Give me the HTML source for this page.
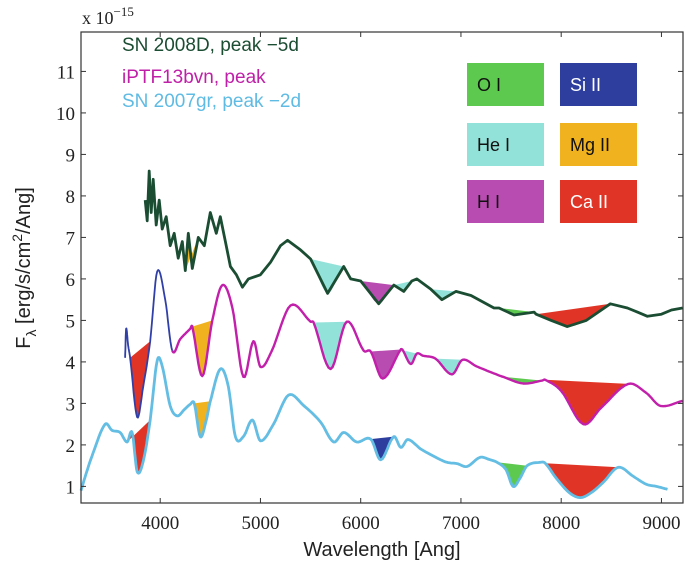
<!DOCTYPE html>
<html><head><meta charset="utf-8"><style>
body{margin:0;background:#fff;}
svg{display:block;}
</style></head><body>
<svg id="chart" width="685" height="566" xmlns="http://www.w3.org/2000/svg">
<g id="fills"></g>
<g id="lines"></g>
<g id="axes"></g>
<g font-family="Liberation Sans, sans-serif" font-size="19">
<text x="122" y="51" fill="#1b4d33">SN 2008D, peak −5d</text>
<text x="122" y="83" fill="#c020a8">iPTF13bvn, peak</text>
<text x="122" y="107" fill="#5fbbe3">SN 2007gr, peak −2d</text>
</g>
<g id="ionlegend" font-family="Liberation Sans, sans-serif" font-size="18"></g>
</svg>
<script>
const NS='http://www.w3.org/2000/svg';
// axis ranges
const xMin=3210, xMax=9215, yMin=0.6, yMax=11.95;
const xTicks=[4000,5000,6000,7000,8000,9000];
const yTicks=[1,2,3,4,5,6,7,8,9,10,11];
// SN 2007gr
const lam07=[3210,3260,3330,3450,3520,3600,3670,3720,3770,3830,3900,3970,4020,4100,4170,4240,4300,4340,4400,4460,4500,4600,4680,4750,4830,4920,5000,5130,5280,5430,5600,5730,5830,5960,6100,6200,6330,6400,6470,6600,6750,6860,6960,7060,7190,7280,7360,7450,7520,7590,7660,7790,7840,7950,8080,8190,8300,8420,8570,8720,8850,8950,9060];
const flux07=[0.9,1.3,1.8,2.5,2.35,2.3,2.07,2.3,1.36,1.6,2.6,4.03,3.9,2.94,2.7,2.85,2.98,3.0,2.2,2.6,3.05,3.83,3.4,2.2,2.2,2.6,2.1,2.5,3.2,2.95,2.55,2.07,2.3,2.07,2.14,1.64,2.2,1.94,2.13,1.9,1.7,1.58,1.55,1.48,1.7,1.65,1.58,1.4,1.0,1.2,1.5,1.58,1.56,1.2,0.85,0.73,0.85,1.1,1.46,1.24,1.05,1.0,0.93];
// iPTF13bvn
const lam13=[3650,3660,3680,3700,3770,3830,3900,3970,4050,4120,4200,4300,4320,4420,4520,4620,4720,4830,4930,5000,5110,5300,5500,5530,5700,5860,6030,6100,6220,6400,6420,6500,6560,6620,6745,6910,7015,7150,7290,7420,7620,7810,7840,8000,8220,8400,8670,8850,8990,9210];
const flux13=[4.1,4.8,4.4,4.1,2.67,3.4,4.5,6.18,5.5,4.27,4.55,4.8,4.85,3.66,5.0,5.85,5.3,3.64,4.5,3.88,4.25,5.36,4.97,4.95,3.83,4.97,4.27,4.25,3.6,4.3,4.28,3.95,4.2,4.15,4.08,3.7,4.05,3.9,3.76,3.64,3.48,3.55,3.57,3.3,2.5,2.9,3.47,3.25,2.94,3.06];
// SN 2008D
const lam08=[3850,3870,3890,3910,3930,3960,3990,4020,4060,4100,4140,4180,4220,4250,4280,4320,4380,4440,4500,4560,4600,4650,4700,4760,4820,4880,5000,5100,5200,5270,5400,5500,5670,5830,5900,6000,6180,6330,6430,6510,6560,6700,6810,6950,7100,7330,7380,7530,7730,7750,7900,8060,8250,8490,8660,8760,8860,9000,9100,9210];
const flux08=[7.9,7.4,8.6,7.6,8.4,7.3,7.9,7.2,7.5,6.8,7.1,6.5,6.9,6.2,7.1,6.25,7.0,6.8,7.6,7.1,7.5,6.9,6.3,6.1,5.8,6.0,6.1,6.4,6.8,6.93,6.7,6.48,5.65,6.3,6.0,5.95,5.4,5.85,5.7,5.95,6.0,5.75,5.5,5.7,5.6,5.3,5.3,5.13,5.2,5.15,5.0,4.85,5.0,5.4,5.3,5.2,5.1,5.15,5.25,5.3];
// absorption features: [ion, start, end]
const fills07=[["Ca",3670,3900],["Mg",4340,4500],["Si",6100,6330],["O",7360,7660],["Ca",7840,8570]];
const fills13=[["Ca",3700,3900],["Mg",4320,4520],["He",5530,5860],["H",6100,6400],["He",6420,6560],["He",6745,7015],["O",7420,7810],["Ca",7840,8670]];
const fills08=[["Mg",4250,4380],["He",5500,5830],["H",6000,6330],["He",6330,6510],["He",6700,6950],["O",7380,7730],["Ca",7750,8490]];
const ionColors={O:"#5ec94f",Si:"#2d3e9e",He:"#93e2da",Mg:"#f0b21e",H:"#b84cb0",Ca:"#e03526"};
const ionLabels=[["O","O I",467,63,"#111"],["Si","Si II",560,63,"#fff"],["He","He I",467,123,"#111"],["Mg","Mg II",560,123,"#111"],["H","H I",467,180,"#111"],["Ca","Ca II",560,180,"#fff"]];

const L=81,R=683,T=32,B=503;
const X=v=>L+(v-xMin)/(xMax-xMin)*(R-L);
const Y=v=>B-(v-yMin)/(yMax-yMin)*(B-T);
// smooth (cubic Hermite) densification for drawing
function densify(la,fl){
  const n=la.length, m=[];
  for(let i=0;i<n;i++){
    if(i===0) m.push((fl[1]-fl[0])/(la[1]-la[0]));
    else if(i===n-1) m.push((fl[n-1]-fl[n-2])/(la[n-1]-la[n-2]));
    else m.push((fl[i+1]-fl[i-1])/(la[i+1]-la[i-1]));
  }
  const ol=[],of=[];
  for(let i=0;i<n-1;i++){
    const h=la[i+1]-la[i], S=8;
    for(let s=0;s<S;s++){
      const t=s/S,t2=t*t,t3=t2*t;
      ol.push(la[i]+t*h);
      of.push((2*t3-3*t2+1)*fl[i]+(t3-2*t2+t)*h*m[i]+(-2*t3+3*t2)*fl[i+1]+(t3-t2)*h*m[i+1]);
    }
  }
  ol.push(la[n-1]);of.push(fl[n-1]);
  return [ol,of];
}
function interp(la,fl,x){for(let i=0;i<la.length-1;i++){if(x>=la[i]&&x<=la[i+1]){const t=(x-la[i])/(la[i+1]-la[i]);return fl[i]+t*(fl[i+1]-fl[i]);}}return fl[fl.length-1];}
const fg=document.getElementById('fills'), lg=document.getElementById('lines'), ag=document.getElementById('axes');
function mk(tag,attrs,parent){const e=document.createElementNS(NS,tag);for(const k in attrs)e.setAttribute(k,attrs[k]);parent.appendChild(e);return e;}
function drawFills(la,fl,fills,name){
  fills.forEach(f=>{
    const a=f[1],b=f[2];const pts=[[a,interp(la,fl,a)]];
    la.forEach((l,i)=>{if(l>a&&l<b)pts.push([l,fl[i]]);});
    pts.push([b,interp(la,fl,b)]);
    const p=mk('polygon',{points:pts.map(q=>X(q[0]).toFixed(1)+','+Y(q[1]).toFixed(1)).join(' '),fill:ionColors[f[0]]},fg);
    
    
  });
}
function drawLine(la,fl,color,w,name,lo,hi){
  const pts=[];la.forEach((l,i)=>{if(l>=lo&&l<=hi)pts.push(X(l).toFixed(1)+','+Y(fl[i]).toFixed(1));});
  const p=mk('polyline',{points:pts.join(' '),fill:'none',stroke:color,'stroke-width':w,'stroke-linejoin':'round'},lg);
  
  
}
const d07=densify(lam07,flux07), d13=densify(lam13,flux13), d08=densify(lam08,flux08);
drawFills(d07[0],d07[1],fills07,'sn2007gr');
drawFills(d13[0],d13[1],fills13,'iptf13bvn');
drawFills(d08[0],d08[1],fills08,'sn2008d');
drawLine(d07[0],d07[1],'#64bde3',2.8,'sn2007gr-line',0,1e5);
drawLine(d13[0],d13[1],'#c21fab',2.4,'iptf13bvn-line',4120,1e5);
drawLine(d13[0],d13[1],'#3040a8',1.8,'iptf13bvn-blue-line',0,4120);
drawLine(lam08,flux08,'#1b4d33',2.8,'sn2008d-line',0,1e5);

// axes box
const box=mk('rect',{x:L,y:T,width:R-L,height:B-T,fill:'none',stroke:'#333','stroke-width':1.2},ag);


xTicks.forEach(t=>{
  const x=X(t);
  mk('line',{x1:x,y1:B,x2:x,y2:B-5,stroke:'#333'},ag);
  mk('line',{x1:x,y1:T,x2:x,y2:T+5,stroke:'#333'},ag);
  const tx=mk('text',{x:x,y:B+26,'text-anchor':'middle','font-family':'Liberation Serif, serif','font-size':19,fill:'#222'},ag);
  tx.textContent=t;
  
  
});
yTicks.forEach(t=>{
  const y=Y(t);
  mk('line',{x1:L,y1:y,x2:L+5,y2:y,stroke:'#333'},ag);
  mk('line',{x1:R,y1:y,x2:R-5,y2:y,stroke:'#333'},ag);
  const tx=mk('text',{x:L-6,y:y+7,'text-anchor':'end','font-family':'Liberation Serif, serif','font-size':19,fill:'#222'},ag);
  tx.textContent=t;
  
  
});
const il=document.getElementById('ionlegend');
ionLabels.forEach(d=>{
  const r=mk('rect',{x:d[2],y:d[3],width:77,height:43,fill:ionColors[d[0]]},il);
  
  
  const t=mk('text',{x:d[2]+10,y:d[3]+28,fill:d[4]},il);
  t.textContent=d[1];
  
  
});
</script>
<svg width="685" height="566" style="position:absolute;left:0;top:0;pointer-events:none" xmlns="http://www.w3.org/2000/svg">
<text x="82" y="24" font-family="Liberation Serif, serif" font-size="18" fill="#222">x 10<tspan dy="-8" font-size="13">−15</tspan></text>
<text x="382" y="556" text-anchor="middle" font-family="Liberation Sans, sans-serif" font-size="20" fill="#222">Wavelength [Ang]</text>
<text transform="translate(30,268) rotate(-90)" text-anchor="middle" font-family="Liberation Sans, sans-serif" font-size="20" fill="#222">F<tspan dy="6" font-size="14">λ</tspan><tspan dy="-6"> [erg/s/cm</tspan><tspan dy="-8" font-size="14">2</tspan><tspan dy="8">/Ang]</tspan></text>
</svg>
</body></html>
